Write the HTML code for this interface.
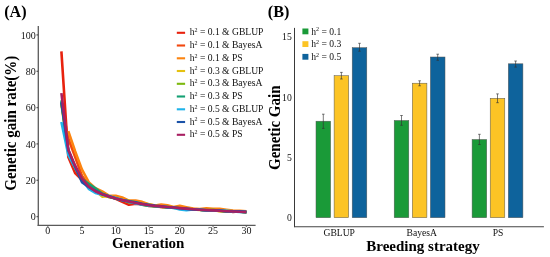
<!DOCTYPE html><html><head><meta charset="utf-8"><title>Figure</title>
<style>html,body{margin:0;padding:0;background:#fff}svg{display:block}text{font-family:"Liberation Serif","Times New Roman",serif;fill:#111}.b{font-weight:bold;fill:#000}</style></head><body>
<svg width="550" height="257" viewBox="0 0 550 257">
<rect width="550" height="257" fill="#fff"/>
<text class="b" x="4.2" y="17.3" font-size="16.2">(A)</text>
<polyline points="61.4,51.3 68.3,157.0 75.1,173.0 81.9,179.7 88.7,187.3 95.4,190.9 102.2,195.0 108.9,196.6 115.7,198.7 122.3,201.7 128.9,204.8 135.6,203.8 142.2,204.1 148.8,206.0 155.0,206.0 161.2,206.9 167.4,207.4 173.6,207.6 179.8,207.7 186.4,209.0 193.1,209.5 199.7,209.6 206.4,209.6 213.0,210.3 219.7,210.9 226.4,210.6 233.0,212.0 239.7,211.3 246.4,212.3" fill="none" stroke="#E8220E" stroke-width="2.6" stroke-linejoin="round"/>
<polyline points="61.4,104.0 68.3,138.5 75.1,156.7 81.9,175.7 88.7,184.8 95.4,191.8 102.2,195.0 108.9,197.0 115.7,197.9 122.3,200.5 128.9,201.4 135.6,202.7 142.2,204.3 148.8,205.1 155.0,206.4 161.2,206.9 167.4,207.3 173.6,207.3 179.8,208.1 186.4,208.8 193.1,209.1 199.7,209.7 206.4,210.3 213.0,210.1 219.7,210.6 226.4,211.4 233.0,211.4 239.7,211.7 246.4,211.6" fill="none" stroke="#F2480F" stroke-width="2.6" stroke-linejoin="round"/>
<polyline points="68.3,131.2 75.1,151.2 81.9,169.4 88.7,182.1 95.4,188.3 102.2,191.4 108.9,195.5 115.7,195.7 122.3,197.5 128.9,200.6 135.6,200.6 142.2,201.9 148.8,204.2 155.0,205.5 161.2,204.6 167.4,205.2 173.6,207.0 179.8,205.9 186.4,207.2 193.1,208.6 199.7,209.0 206.4,208.4 213.0,208.8 219.7,208.8 226.4,209.7 233.0,210.6 239.7,210.8 246.4,211.2" fill="none" stroke="#FC8410" stroke-width="2.6" stroke-linejoin="round"/>
<polyline points="61.4,104.0 68.3,152.1 75.1,167.4 81.9,179.2 88.7,186.7 95.4,190.7 102.2,196.6 108.9,196.0 115.7,198.5 122.3,199.6 128.9,202.2 135.6,202.7 142.2,203.9 148.8,204.4 155.0,205.6 161.2,206.6 167.4,207.1 173.6,207.4 179.8,208.5 186.4,208.6 193.1,209.4 199.7,210.0 206.4,210.4 213.0,210.2 219.7,211.1 226.4,211.4 233.0,211.6 239.7,211.4 246.4,212.4" fill="none" stroke="#E5C110" stroke-width="2.6" stroke-linejoin="round"/>
<polyline points="61.4,102.2 68.3,151.2 75.1,167.6 81.9,179.3 88.7,186.1 95.4,190.7 102.2,193.7 108.9,196.9 115.7,198.6 122.3,200.1 128.9,201.0 135.6,202.3 142.2,204.6 148.8,205.6 155.0,206.1 161.2,206.7 167.4,207.0 173.6,207.4 179.8,208.3 186.4,209.0 193.1,209.2 199.7,209.8 206.4,210.0 213.0,210.0 219.7,210.6 226.4,211.1 233.0,211.4 239.7,211.5 246.4,212.4" fill="none" stroke="#7DB90F" stroke-width="2.6" stroke-linejoin="round"/>
<polyline points="61.4,100.3 68.3,151.2 75.1,167.0 81.9,179.0 88.7,183.9 95.4,188.4 102.2,193.7 108.9,196.2 115.7,198.6 122.3,200.0 128.9,202.1 135.6,202.8 142.2,204.7 148.8,205.8 155.0,206.1 161.2,206.7 167.4,207.1 173.6,207.9 179.8,208.5 186.4,208.9 193.1,209.5 199.7,209.8 206.4,210.5 213.0,210.1 219.7,210.7 226.4,211.5 233.0,211.7 239.7,211.8 246.4,212.2" fill="none" stroke="#14A073" stroke-width="2.6" stroke-linejoin="round"/>
<polyline points="61.4,122.1 68.3,154.8 75.1,167.6 81.9,179.4 88.7,188.8 95.4,193.0 102.2,194.7 108.9,196.2 115.7,197.9 122.3,199.9 128.9,201.5 135.6,203.4 142.2,204.5 148.8,205.3 155.0,206.0 161.2,206.2 167.4,207.2 173.6,207.8 179.8,209.5 186.4,210.1 193.1,209.4 199.7,209.7 206.4,210.4 213.0,210.4 219.7,210.5 226.4,210.9 233.0,211.4 239.7,211.9 246.4,212.1" fill="none" stroke="#1FB3EA" stroke-width="2.6" stroke-linejoin="round"/>
<polyline points="61.4,102.2 68.3,150.3 75.1,166.6 81.9,182.1 88.7,187.0 95.4,190.9 102.2,194.2 108.9,196.3 115.7,198.6 122.3,200.2 128.9,201.2 135.6,202.4 142.2,203.7 148.8,204.8 155.0,205.7 161.2,206.3 167.4,207.2 173.6,207.5 179.8,208.2 186.4,208.9 193.1,209.5 199.7,209.8 206.4,210.2 213.0,210.3 219.7,210.5 226.4,211.2 233.0,211.2 239.7,211.4 246.4,211.8" fill="none" stroke="#1B52A8" stroke-width="2.6" stroke-linejoin="round"/>
<polyline points="61.4,93.1 68.3,149.4 75.1,165.7 81.9,178.5 88.7,186.6 95.4,191.2 102.2,194.3 108.9,196.6 115.7,198.4 122.3,199.9 128.9,201.5 135.6,203.0 142.2,204.1 148.8,205.2 155.0,205.9 161.2,206.4 167.4,207.0 173.6,207.5 179.8,208.1 186.4,208.6 193.1,209.2 199.7,209.7 206.4,210.1 213.0,210.4 219.7,210.8 226.4,211.2 233.0,211.5 239.7,211.7 246.4,212.1" fill="none" stroke="#A81F62" stroke-width="2.6" stroke-linejoin="round"/>
<g stroke="#5a5a5a" stroke-width="1.3" fill="none">
<path d="M38.3 26 V226.1"/>
<path d="M37.6 225.4 H255.6"/>
<path d="M36.5 216.6 H38.3"/>
<path d="M36.5 180.3 H38.3"/>
<path d="M36.5 143.9 H38.3"/>
<path d="M36.5 107.6 H38.3"/>
<path d="M36.5 71.3 H38.3"/>
<path d="M36.5 34.9 H38.3"/>
<path d="M47.8 225.4 V226.8"/>
<path d="M81.9 225.4 V226.8"/>
<path d="M115.7 225.4 V226.8"/>
<path d="M148.8 225.4 V226.8"/>
<path d="M179.8 225.4 V226.8"/>
<path d="M213.0 225.4 V226.8"/>
<path d="M246.4 225.4 V226.8"/>
</g>
<text x="35.7" y="220.2" font-size="10" text-anchor="end">0</text>
<text x="35.7" y="183.9" font-size="10" text-anchor="end">20</text>
<text x="35.7" y="147.5" font-size="10" text-anchor="end">40</text>
<text x="35.7" y="111.2" font-size="10" text-anchor="end">60</text>
<text x="35.7" y="74.9" font-size="10" text-anchor="end">80</text>
<text x="35.7" y="38.5" font-size="10" text-anchor="end">100</text>
<text x="47.8" y="234.3" font-size="10" text-anchor="middle">0</text>
<text x="81.9" y="234.3" font-size="10" text-anchor="middle">5</text>
<text x="115.7" y="234.3" font-size="10" text-anchor="middle">10</text>
<text x="148.8" y="234.3" font-size="10" text-anchor="middle">15</text>
<text x="179.8" y="234.3" font-size="10" text-anchor="middle">20</text>
<text x="213.0" y="234.3" font-size="10" text-anchor="middle">25</text>
<text x="246.4" y="234.3" font-size="10" text-anchor="middle">30</text>
<text class="b" x="148.2" y="247.8" font-size="15" text-anchor="middle">Generation</text>
<text class="b" transform="translate(16.4 123.2) rotate(-90) scale(1 1.13)" font-size="15" text-anchor="middle">Genetic gain rate(%)</text>
<path d="M176.8 32.8 H185.1" stroke="#E8220E" stroke-width="2.1"/>
<text x="189.7" y="35.3" font-size="9.6">h<tspan dy="-3.3" font-size="6">2</tspan><tspan dy="3.3"> </tspan>= 0.1 & GBLUP</text>
<path d="M176.8 45.5 H185.1" stroke="#F2480F" stroke-width="2.1"/>
<text x="189.7" y="48.0" font-size="9.6">h<tspan dy="-3.3" font-size="6">2</tspan><tspan dy="3.3"> </tspan>= 0.1 & BayesA</text>
<path d="M176.8 58.3 H185.1" stroke="#FC8410" stroke-width="2.1"/>
<text x="189.7" y="60.8" font-size="9.6">h<tspan dy="-3.3" font-size="6">2</tspan><tspan dy="3.3"> </tspan>= 0.1 & PS</text>
<path d="M176.8 71.0 H185.1" stroke="#E5C110" stroke-width="2.1"/>
<text x="189.7" y="73.5" font-size="9.6">h<tspan dy="-3.3" font-size="6">2</tspan><tspan dy="3.3"> </tspan>= 0.3 & GBLUP</text>
<path d="M176.8 83.8 H185.1" stroke="#7DB90F" stroke-width="2.1"/>
<text x="189.7" y="86.3" font-size="9.6">h<tspan dy="-3.3" font-size="6">2</tspan><tspan dy="3.3"> </tspan>= 0.3 & BayesA</text>
<path d="M176.8 96.5 H185.1" stroke="#14A073" stroke-width="2.1"/>
<text x="189.7" y="99.0" font-size="9.6">h<tspan dy="-3.3" font-size="6">2</tspan><tspan dy="3.3"> </tspan>= 0.3 & PS</text>
<path d="M176.8 109.3 H185.1" stroke="#1FB3EA" stroke-width="2.1"/>
<text x="189.7" y="111.8" font-size="9.6">h<tspan dy="-3.3" font-size="6">2</tspan><tspan dy="3.3"> </tspan>= 0.5 & GBLUP</text>
<path d="M176.8 122.0 H185.1" stroke="#1B52A8" stroke-width="2.1"/>
<text x="189.7" y="124.5" font-size="9.6">h<tspan dy="-3.3" font-size="6">2</tspan><tspan dy="3.3"> </tspan>= 0.5 & BayesA</text>
<path d="M176.8 134.8 H185.1" stroke="#A81F62" stroke-width="2.1"/>
<text x="189.7" y="137.3" font-size="9.6">h<tspan dy="-3.3" font-size="6">2</tspan><tspan dy="3.3"> </tspan>= 0.5 & PS</text>
<text class="b" x="267.8" y="17.3" font-size="16.2">(B)</text>
<rect x="316.0" y="121.2" width="14.6" height="96.5" fill="#1A9A38" stroke="#555" stroke-width="0.5"/>
<path d="M323.3 114.2 V128.4 M322.0 114.2 H324.6 M322.0 128.4 H324.6" stroke="#333" stroke-width="0.65" fill="none"/>
<rect x="334.1" y="75.7" width="14.6" height="142.0" fill="#FCC425" stroke="#555" stroke-width="0.5"/>
<path d="M341.4 72.4 V79.0 M340.1 72.4 H342.7 M340.1 79.0 H342.7" stroke="#333" stroke-width="0.65" fill="none"/>
<rect x="352.2" y="47.7" width="14.6" height="170.0" fill="#0E639C" stroke="#555" stroke-width="0.5"/>
<path d="M359.5 43.3 V51.2 M358.2 43.3 H360.8 M358.2 51.2 H360.8" stroke="#333" stroke-width="0.65" fill="none"/>
<rect x="394.2" y="120.5" width="14.6" height="97.2" fill="#1A9A38" stroke="#555" stroke-width="0.5"/>
<path d="M401.5 115.5 V125.3 M400.2 115.5 H402.8 M400.2 125.3 H402.8" stroke="#333" stroke-width="0.65" fill="none"/>
<rect x="412.3" y="83.2" width="14.6" height="134.5" fill="#FCC425" stroke="#555" stroke-width="0.5"/>
<path d="M419.6 80.8 V85.8 M418.3 80.8 H420.9 M418.3 85.8 H420.9" stroke="#333" stroke-width="0.65" fill="none"/>
<rect x="430.4" y="57.0" width="14.6" height="160.7" fill="#0E639C" stroke="#555" stroke-width="0.5"/>
<path d="M437.7 54.2 V60.3 M436.4 54.2 H439.0 M436.4 60.3 H439.0" stroke="#333" stroke-width="0.65" fill="none"/>
<rect x="472.1" y="139.5" width="14.6" height="78.2" fill="#1A9A38" stroke="#555" stroke-width="0.5"/>
<path d="M479.4 134.3 V144.5 M478.1 134.3 H480.7 M478.1 144.5 H480.7" stroke="#333" stroke-width="0.65" fill="none"/>
<rect x="490.2" y="98.3" width="14.6" height="119.4" fill="#FCC425" stroke="#555" stroke-width="0.5"/>
<path d="M497.5 93.9 V102.7 M496.2 93.9 H498.8 M496.2 102.7 H498.8" stroke="#333" stroke-width="0.65" fill="none"/>
<rect x="508.3" y="63.8" width="14.6" height="153.9" fill="#0E639C" stroke="#555" stroke-width="0.5"/>
<path d="M515.6 61.0 V67.1 M514.3 61.0 H516.9 M514.3 67.1 H516.9" stroke="#333" stroke-width="0.65" fill="none"/>
<g stroke="#222" stroke-width="0.9" fill="none">
<path d="M294.5 27.9 V227.2"/>
<path d="M294.3 226.7 H543.9" stroke="#444" stroke-width="1.1"/>
</g>
<text x="291.8" y="221.1" font-size="9.7" text-anchor="end">0</text>
<text x="291.8" y="160.8" font-size="9.7" text-anchor="end">5</text>
<text x="291.8" y="100.6" font-size="9.7" text-anchor="end">10</text>
<text x="291.8" y="40.3" font-size="9.7" text-anchor="end">15</text>
<text x="339.2" y="235.8" font-size="9.6" text-anchor="middle">GBLUP</text>
<text x="421.8" y="235.8" font-size="9.6" text-anchor="middle">BayesA</text>
<text x="498" y="235.8" font-size="9.6" text-anchor="middle">PS</text>
<text class="b" x="423.05" y="250.5" font-size="15" text-anchor="middle">Breeding strategy</text>
<text class="b" transform="translate(279.5 127.75) rotate(-90) scale(1 1.15)" font-size="15" text-anchor="middle">Genetic Gain</text>
<rect x="302.4" y="28.5" width="6" height="5.8" fill="#1A9A38"/>
<text x="311.2" y="34.7" font-size="9.6">h<tspan dy="-3.3" font-size="6">2</tspan><tspan dy="3.3"> </tspan>= 0.1</text>
<rect x="302.4" y="41.2" width="6" height="5.8" fill="#FCC425"/>
<text x="311.2" y="47.4" font-size="9.6">h<tspan dy="-3.3" font-size="6">2</tspan><tspan dy="3.3"> </tspan>= 0.3</text>
<rect x="302.4" y="53.9" width="6" height="5.8" fill="#0E639C"/>
<text x="311.2" y="60.1" font-size="9.6">h<tspan dy="-3.3" font-size="6">2</tspan><tspan dy="3.3"> </tspan>= 0.5</text>
</svg></body></html>
